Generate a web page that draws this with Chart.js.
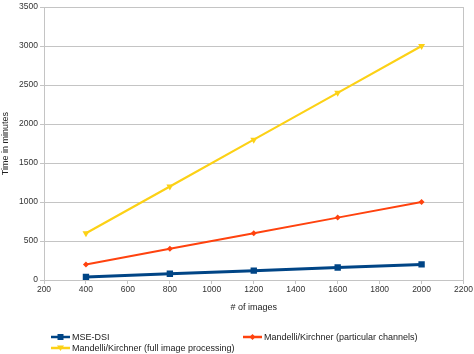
<!DOCTYPE html>
<html>
<head>
<meta charset="utf-8">
<script src="https://cdn.jsdelivr.net/npm/chart.js@4/dist/chart.umd.min.js"></script>
<style>
  html, body { margin: 0; padding: 0; background: #fff; }
  #wrap { width: 474px; height: 354px; position: relative; }
</style>
</head>
<body>
<div id="wrap"><canvas id="viz"></canvas></div>
<script>
// data
const imageCounts = [400, 800, 1200, 1600, 2000];
const mseDsi = [40, 80, 120, 160, 200];
const mkChannels = [200, 400, 600, 800, 1000];
const mkFull = [600, 1200, 1800, 2400, 3000];
const seriesNames = ['MSE-DSI', 'Mandelli/Kirchner (particular channels)', 'Mandelli/Kirchner (full image processing)'];

const FONT = "'Liberation Sans', Arial, sans-serif";
const GRID = '#c4c4c4';

const pts = (ys) => imageCounts.map((x, i) => ({ x, y: ys[i] }));

// marker shapes for the hand-drawn legend
function marker(ctx, kind, x, y, color){
  ctx.fillStyle = color;
  ctx.beginPath();
  if (kind === 'rect') {
    ctx.rect(x - 3, y - 3, 6, 6);
  } else if (kind === 'rectRot') {
    ctx.moveTo(x, y - 3); ctx.lineTo(x + 3, y); ctx.lineTo(x, y + 3); ctx.lineTo(x - 3, y);
  } else {
    ctx.moveTo(x - 3.5, y - 2.5); ctx.lineTo(x + 3.5, y - 2.5); ctx.lineTo(x, y + 3);
  }
  ctx.closePath();
  ctx.fill();
}

const legendPlugin = {
  id: 'bottomLegend',
  afterDraw(chart){
    const ctx = chart.ctx;
    const spots = [[51, 337], [243, 337], [51, 348]];
    ctx.save();
    ctx.font = '9px ' + FONT;
    ctx.textBaseline = 'middle';
    chart.data.datasets.forEach((ds, i) => {
      const [x, y] = spots[i];
      ctx.strokeStyle = ds.borderColor;
      ctx.lineWidth = 2.5;
      ctx.beginPath(); ctx.moveTo(x, y); ctx.lineTo(x + 19, y); ctx.stroke();
      marker(ctx, ds.pointStyle, x + 9.5, y, ds.borderColor);
      ctx.fillStyle = '#222';
      ctx.fillText(ds.label, x + 21, y + 0.5);
    });
    ctx.restore();
  }
};

const chart = new Chart(document.getElementById('viz').getContext('2d'), {
  type: 'line',
  data: {
    datasets: [
      { label: seriesNames[0], data: pts(mseDsi), borderColor: '#004586', backgroundColor: '#004586',
        borderWidth: 3, pointStyle: 'rect', pointRadius: 4.5, pointBorderWidth: 0 },
      { label: seriesNames[1], data: pts(mkChannels), borderColor: '#ff420e', backgroundColor: '#ff420e',
        borderWidth: 2, pointStyle: 'rectRot', pointRadius: 3, pointBorderWidth: 0 },
      { label: seriesNames[2], data: pts(mkFull), borderColor: '#fcd116', backgroundColor: '#fcd116',
        borderWidth: 2.2, pointStyle: 'triangle', pointRotation: 180, pointRadius: 4, pointBorderWidth: 0 }
    ]
  },
  options: {
    responsive: true,
    maintainAspectRatio: false,
    animation: false,
    layout: { padding: { left: 0, right: 9, top: 4, bottom: 41 } },
    plugins: { legend: { display: false }, tooltip: { enabled: false } },
    scales: {
      x: {
        type: 'linear', min: 200, max: 2200,
        afterFit: s => { s.height = 33; },
        ticks: { stepSize: 200, padding: 1, color: '#333', font: { family: FONT, size: 8.5 }, maxRotation: 0,
          callback: v => String(v) },
        grid: {
          color: c => (c.tick && c.tick.value === 2200) ? GRID : 'rgba(0,0,0,0)',
          tickColor: GRID, tickLength: 4, lineWidth: 1
        },
        border: { color: GRID },
        title: { display: true, text: '# of images', color: '#222', font: { family: FONT, size: 9 }, padding: 0 }
      },
      y: {
        min: 0, max: 3500,
        afterFit: s => { s.width = 44; },
        ticks: { stepSize: 500, padding: 2, color: '#333', font: { family: FONT, size: 8.5 },
          callback: v => String(v) },
        grid: { color: GRID, tickColor: GRID, tickLength: 4, lineWidth: 1 },
        border: { color: GRID },
        title: { display: true, text: 'Time in minutes', color: '#222', font: { family: FONT, size: 9 }, padding: 0 }
      }
    }
  },
  plugins: [legendPlugin]
});
</script>
</body>
</html>
